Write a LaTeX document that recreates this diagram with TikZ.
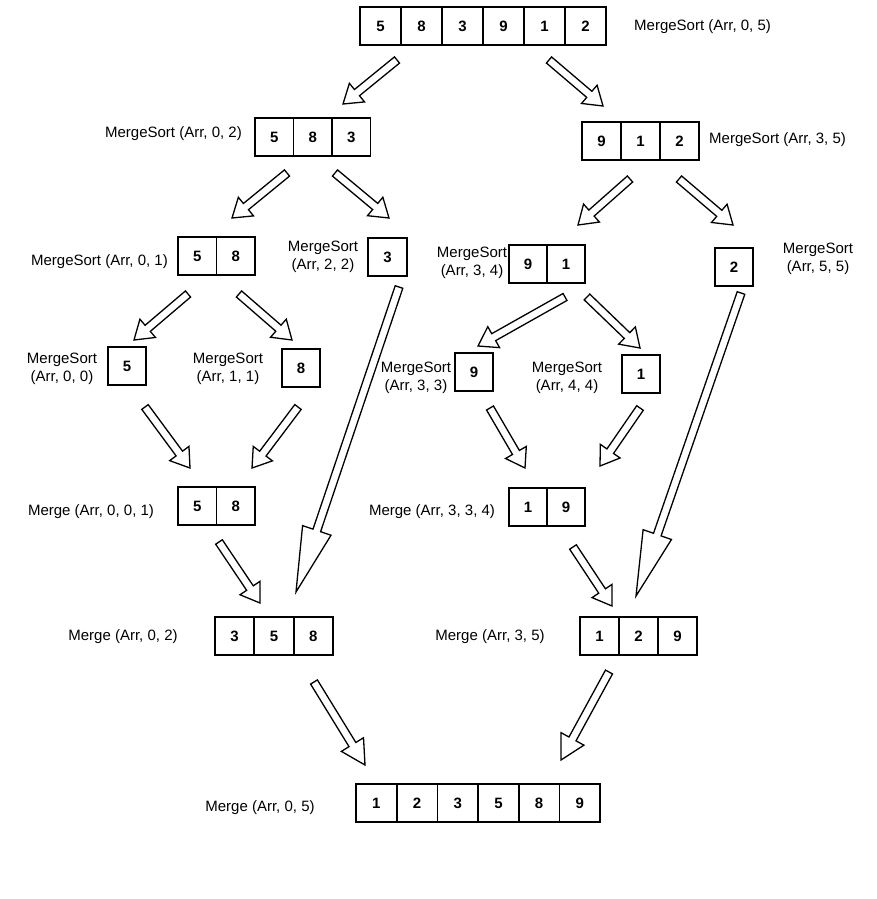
\documentclass[tikz,border=0pt]{standalone}
\usepackage{fontspec}
\setmainfont{Liberation Sans}
\usetikzlibrary{calc}
\tikzset{
  cell/.style={draw,line width=1.8pt,minimum width=39pt,minimum height=38pt,inner sep=0pt,font=\fontsize{15}{17}\selectfont\bfseries},
  lab/.style={font=\fontsize{15}{18}\selectfont,align=center,inner sep=0pt},
  blk/.style={draw,line width=1.3pt,fill=white,line join=miter}
}
% \cells{name}{left x}{center y}{cell width}{list}
\newcommand\cells[5]{%
  \foreach \v [count=\i] in {#5}{
    \node[cell,minimum width=#4 pt] (#1-\i) at ({#2+(\i-0.5)*#4},#3) {\v};
  }}
% \barrow{tail}{tip}{shaft half}{head half}{head length}
\newcommand\barrow[5]{%
  \path ($(#2)!#5pt!(#1)$) coordinate (hb);
  \draw[blk] ($(#1)!#3pt!90:(#2)$) -- ($(hb)!#3pt!-90:(#1)$) -- ($(hb)!#4pt!-90:(#1)$) -- (#2)
   -- ($(hb)!#4pt!90:(#1)$) -- ($(hb)!#3pt!90:(#1)$) -- ($(#1)!#3pt!-90:(#2)$) -- cycle;}
\begin{document}
\begin{tikzpicture}[x=1pt,y=-1pt]
\useasboundingbox (0,0) rectangle (876,899);
\cells{top}{360}{26}{41}{5,8,3,9,1,2}
\node[lab,anchor=west] (ltop) at (634,27) {MergeSort (Arr, 0, 5)};
\cells{a}{255}{137}{38.5}{5,8,3}
\node[lab,anchor=east] (la) at (242,134) {MergeSort (Arr, 0, 2)};
\cells{b}{582}{141}{39}{9,1,2}
\node[lab,anchor=west] (lb) at (709,140) {MergeSort (Arr, 3, 5)};
\cells{c}{178}{256}{38.5}{5,8}
\node[lab,anchor=east] (lc) at (168,262) {MergeSort (Arr, 0, 1)};
\cells{d}{368}{257}{39}{3}
\node[lab] (ld) at (323,257) {MergeSort\\(Arr, 2, 2)};
\cells{e}{509}{264}{38}{9,1}
\node[lab] (le) at (472,263) {MergeSort\\(Arr, 3, 4)};
\cells{f}{715}{267}{38}{2}
\node[lab] (lf) at (818,259) {MergeSort\\(Arr, 5, 5)};
\cells{g}{108}{366}{38}{5}
\node[lab] (lg) at (62,369) {MergeSort\\(Arr, 0, 0)};
\cells{h}{282}{368}{38}{8}
\node[lab] (lh) at (228,369) {MergeSort\\(Arr, 1, 1)};
\cells{i}{455}{372}{38}{9}
\node[lab] (li) at (416,378) {MergeSort\\(Arr, 3, 3)};
\cells{j}{622}{374}{38}{1}
\node[lab] (lj) at (567,378) {MergeSort\\(Arr, 4, 4)};
\cells{k}{178}{506}{38.5}{5,8}
\node[lab] (lk) at (91,512) {Merge (Arr, 0, 0, 1)};
\cells{m}{509}{507}{38}{1,9}
\node[lab] (lm) at (432,512) {Merge (Arr, 3, 3, 4)};
\cells{n}{215}{636}{39.3}{3,5,8}
\node[lab] (ln) at (123,637) {Merge (Arr, 0, 2)};
\cells{p}{580}{636}{39}{1,2,9}
\node[lab] (lp) at (490,637) {Merge (Arr, 3, 5)};
\cells{q}{356}{803}{40.7}{1,2,3,5,8,9}
\node[lab] (lq) at (260,808) {Merge (Arr, 0, 5)};
% arrow end coordinates
\foreach \n/\x/\y in {t1/397/60, h1/343/104, t2/549/60, h2/603/106,
  t3/287/173, h3/232/218, t4/335/173, h4/389/218,
  t5/630/179, h5/578/225, t6/679/179, h6/733/225,
  t7/188/294, h7/134/340, t8/239/294, h8/292/340,
  t9/399/287, h9/296/592, t10/565/297, h10/478/346,
  t11/587/297, h11/640/348, t12/741/293, h12/636/596,
  t13/145/407, h13/190/468, t14/298/407, h14/252/468,
  t15/490/408, h15/525/468, t16/640/408, h16/600/466,
  t17/219/542, h17/260/603, t18/573/547, h18/612/606,
  t19/314/682, h19/365/765, t20/609/672, h20/561/760}
  {\coordinate (\n) at (\x,\y);}
\foreach \k in {1,...,8,10,11,13,14,15,16,17,18}{\barrow{t\k}{h\k}{4}{12}{18}}
\barrow{t9}{h9}{4}{15}{65}
\barrow{t12}{h12}{4}{15}{65}
\barrow{t19}{h19}{4}{13}{24}
\barrow{t20}{h20}{4}{13}{24}
\end{tikzpicture}
\end{document}
